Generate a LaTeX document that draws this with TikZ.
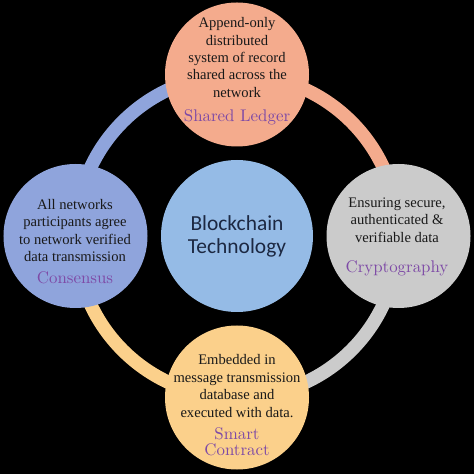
\documentclass[tikz,border=0pt]{standalone}
\usepackage{fontspec}
\setmainfont{Liberation Serif}
\newfontfamily\carlito{Carlito}
\newcommand\tagface{\usefont{TU}{lmr}{m}{n}}
\usetikzlibrary{backgrounds}

\definecolor{ledgerfill}{HTML}{F4AB8D}
\definecolor{cryptofill}{HTML}{CBCBCB}
\definecolor{contractfill}{HTML}{FBD08B}
\definecolor{consensusfill}{HTML}{8FA4DC}
\definecolor{corefill}{HTML}{95BBE6}
\definecolor{tagpurple}{HTML}{7E4AA6}
\definecolor{coretext}{HTML}{1C2842}

\begin{document}
\begin{tikzpicture}[
  pillar/.style={circle, minimum size=2.88cm, inner sep=0pt},
  core/.style={circle, fill=corefill, minimum size=3.04cm, inner sep=0pt,
    align=center, text=coretext, font=\carlito\fontsize{12.2}{13.1}\selectfont},
  desc/.style={align=center, text=black!90, inner sep=0pt,
    font=\rmfamily\fontsize{8.3}{9.9}\selectfont},
  tag/.style={align=center, text=tagpurple, inner sep=0pt,
    font=\tagface\fontsize{9.6}{9.1}\selectfont},
  ring/.style={line width=0.27cm}
]
\useasboundingbox (-4.74,-4.76) rectangle (4.74,4.72);

% Centre
\node[core] (core) at (0,0) {Blockchain\\Technology};

% Shared ledger
\node[pillar, fill=ledgerfill] (ledger) at (0,3.23) {};
\node[desc] (ledgerdesc) at (0,3.57)
  {Append-only\\distributed\\system of record\\shared across the\\network};
\node[tag] (ledgertag) at (0,2.38) {Shared Ledger};

% Cryptography
\node[pillar, fill=cryptofill] (crypto) at (3.23,0) {};
\node[desc] (cryptodesc) at (3.2,0.32)
  {Ensuring secure,\\authenticated \&\\verifiable data};
\node[tag] (cryptotag) at (3.2,-0.64) {Cryptography};

% Smart contract
\node[pillar, fill=contractfill] (contract) at (0,-3.23) {};
\node[desc] (contractdesc) at (0,-3.0)
  {Embedded in\\message transmission\\database and\\executed with data.};
\node[tag] (contracttag) at (0,-4.12) {Smart\\Contract};

% Consensus
\node[pillar, fill=consensusfill] (consensus) at (-3.23,0) {};
\node[desc] (consensusdesc) at (-3.24,0.11)
  {All networks\\participants agree\\to network verified\\data transmission};
\node[tag] (consensustag) at (-3.24,-0.84) {Consensus};

% Ring
\begin{scope}[on background layer]
\fill[black] (-4.74,-4.76) rectangle (4.74,4.72);
\draw[ring, draw=ledgerfill] (ledger.center) to[out=0, in=90] (crypto.center);
\draw[ring, draw=cryptofill] (crypto.center) to[out=-90, in=0] (contract.center);
\draw[ring, draw=contractfill] (contract.center) to[out=180, in=-90] (consensus.center);
\draw[ring, draw=consensusfill] (consensus.center) to[out=90, in=180] (ledger.center);
\end{scope}
\end{tikzpicture}
\end{document}
